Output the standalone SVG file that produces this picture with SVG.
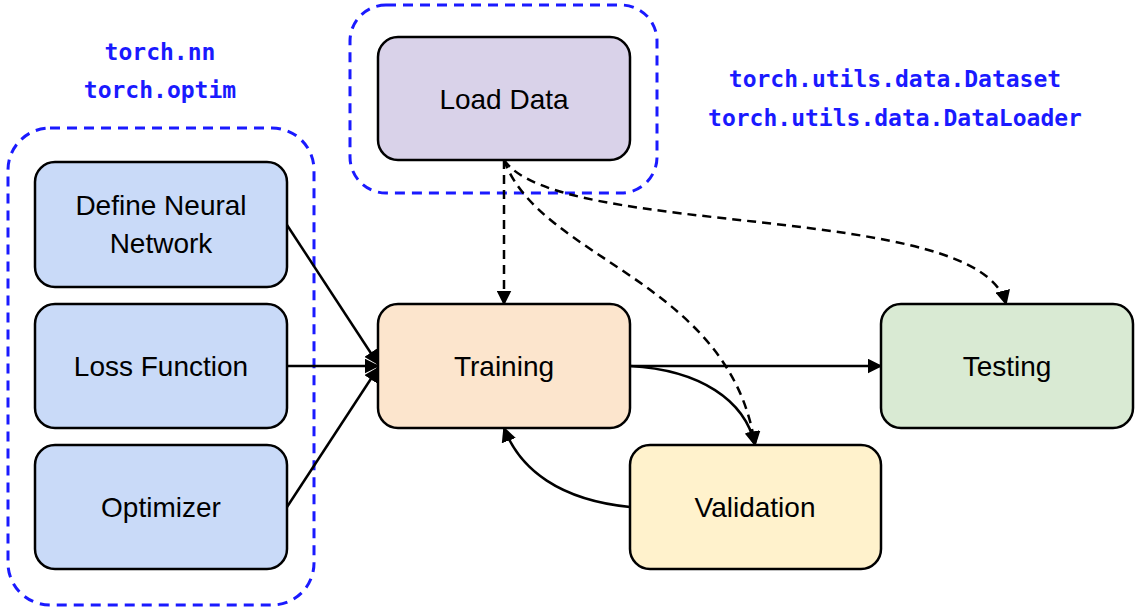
<svg xmlns="http://www.w3.org/2000/svg" width="1147" height="613" viewBox="0 0 1147 613">
<defs>
<style>
.n{stroke:#000;stroke-width:2.5}
.t{font-family:"Liberation Sans",Arial,sans-serif;font-size:28px;text-anchor:middle;fill:#000}
.g{fill:none;stroke:#1a1aff;stroke-width:3;stroke-dasharray:10 7}
.m{font-family:"DejaVu Sans Mono",monospace;font-weight:bold;font-size:23px;fill:#1a1aff;text-anchor:middle}
.c{fill:none;stroke:#000;stroke-width:2.5}
.d{stroke-dasharray:9 6}
</style>
<marker id="a" viewBox="0 0 10 10" refX="9" refY="5" markerWidth="6" markerHeight="6" orient="auto"><path d="M0,0L10,5L0,10z"/></marker>
</defs>
<rect width="1147" height="613" fill="#fff"/>
<g id="groups">
<rect class="g" x="8" y="128" width="306" height="477" rx="42"/>
<rect class="g" x="350" y="5" width="307" height="188" rx="36"/>
<text class="m" x="160" y="60">torch.nn</text>
<text class="m" x="160" y="98">torch.optim</text>
<text class="m" x="895" y="87">torch.utils.data.Dataset</text>
<text class="m" x="895" y="126">torch.utils.data.DataLoader</text>
</g>
<g id="connectors">
<path class="c" marker-end="url(#a)" d="M287,225L378,364"/>
<path class="c" marker-end="url(#a)" d="M287,366L378,366"/>
<path class="c" marker-end="url(#a)" d="M287,507L378,368"/>
<path class="c d" marker-end="url(#a)" d="M504,160L504,304"/>
<path class="c d" marker-end="url(#a)" d="M504,160C540,260 730,280 755,445"/>
<path class="c d" marker-end="url(#a)" d="M504,160C560,240 980,200 1006,304"/>
<path class="c" marker-end="url(#a)" d="M630,366L881,366"/>
<path class="c" marker-end="url(#a)" d="M630,366C700,370 745,400 755,445"/>
<path class="c" marker-end="url(#a)" d="M630,507C560,500 520,470 504,428"/>
</g>
<g id="define"><rect class="n" x="35" y="162" width="252" height="125" rx="20" fill="#c9daf8"/><text class="t" x="161" y="215">Define Neural</text><text class="t" x="161" y="253">Network</text></g>
<g id="loss"><rect class="n" x="35" y="304" width="252" height="124" rx="20" fill="#c9daf8"/><text class="t" x="161" y="376">Loss Function</text></g>
<g id="optimizer"><rect class="n" x="35" y="445" width="252" height="124" rx="20" fill="#c9daf8"/><text class="t" x="161" y="517">Optimizer</text></g>
<g id="load"><rect class="n" x="378" y="37" width="252" height="123" rx="20" fill="#d9d2e9"/><text class="t" x="504" y="109">Load Data</text></g>
<g id="training"><rect class="n" x="378" y="304" width="252" height="124" rx="20" fill="#fce5cd"/><text class="t" x="504" y="376">Training</text></g>
<g id="testing"><rect class="n" x="881" y="304" width="252" height="124" rx="20" fill="#d9ead3"/><text class="t" x="1007" y="376">Testing</text></g>
<g id="validation"><rect class="n" x="630" y="445" width="251" height="124" rx="20" fill="#fff2cc"/><text class="t" x="755" y="517">Validation</text></g>
</svg>
